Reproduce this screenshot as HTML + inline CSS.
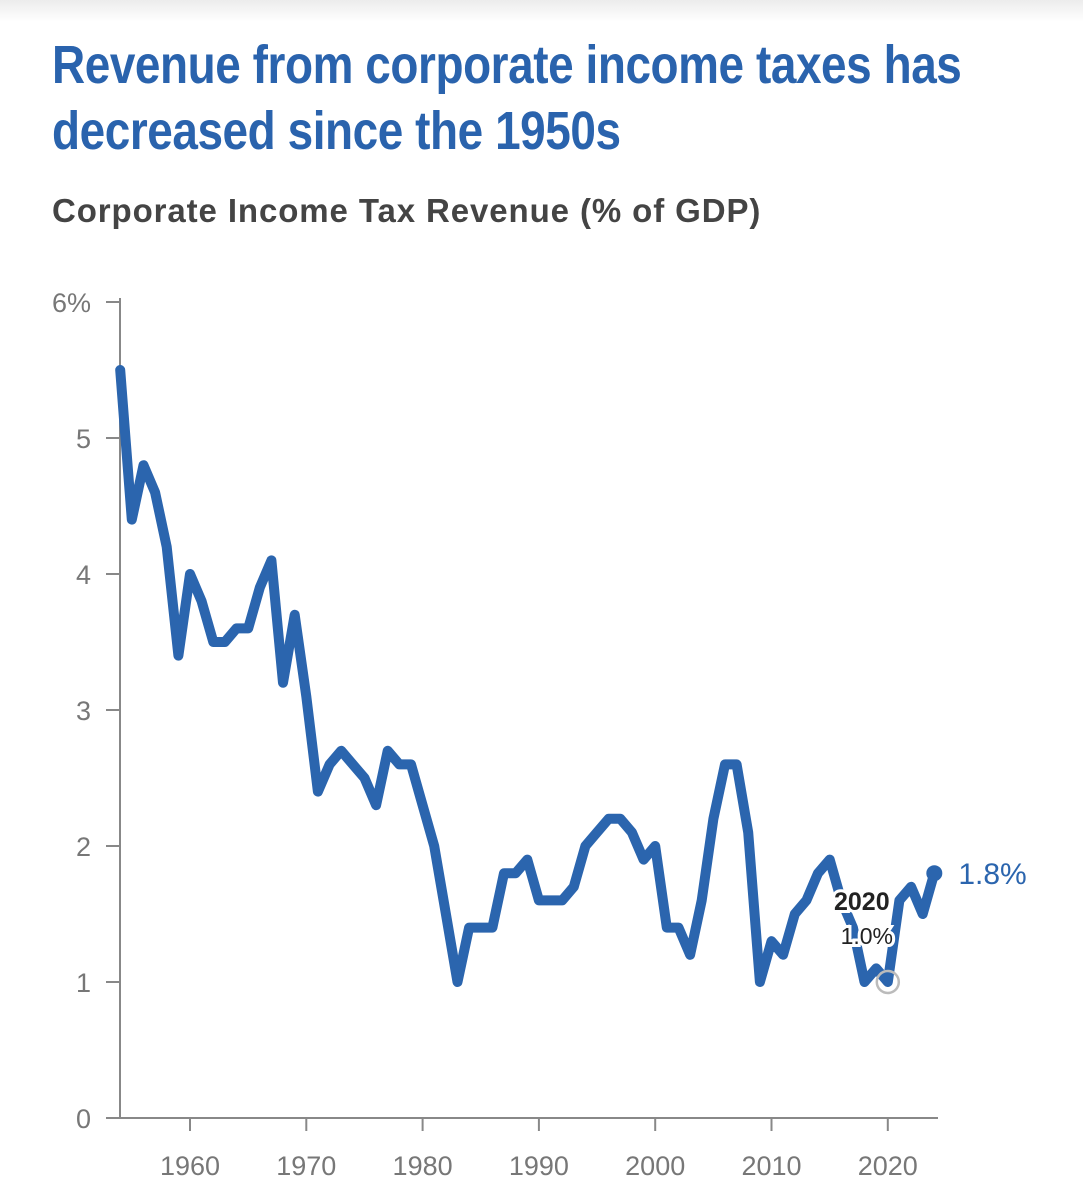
<!DOCTYPE html>
<html><head><meta charset="utf-8"><style>
body{margin:0;background:#fff;width:1083px;height:1200px;overflow:hidden;font-family:"Liberation Sans",sans-serif}
#top{position:absolute;left:0;top:0;width:1083px;height:22px;background:linear-gradient(#ececec,#fff)}
#title{position:absolute;left:52px;top:32px;font-family:"Liberation Sans Narrow","Liberation Sans",sans-serif;font-weight:bold;font-size:54px;line-height:66px;color:#2a63ad;transform-origin:0 0;transform:scaleX(0.85);white-space:nowrap;letter-spacing:-0.5px}
#sub{position:absolute;left:52px;top:192px;font-weight:bold;font-size:33px;letter-spacing:0.9px;color:#444;white-space:nowrap}
svg{position:absolute;left:0;top:0}
</style></head><body>
<div id="top"></div>
<div id="title">Revenue from corporate income taxes has<br>decreased since the 1950s</div>
<div id="sub">Corporate Income Tax Revenue (% of GDP)</div>
<svg id="chart" width="1083" height="1200"></svg>
<script>
const years=[];for(let y=1954;y<=2024;y++)years.push(y);
const values=[5.5,4.4,4.8,4.6,4.2,3.4,4.0,3.8,3.5,3.5,3.6,3.6,3.9,4.1,3.2,3.7,3.1,2.4,2.6,2.7,2.6,2.5,2.3,2.7,2.6,2.6,2.3,2.0,1.5,1.0,1.4,1.4,1.4,1.8,1.8,1.9,1.6,1.6,1.6,1.7,2.0,2.1,2.2,2.2,2.1,1.9,2.0,1.4,1.4,1.2,1.6,2.2,2.6,2.6,2.1,1.0,1.3,1.2,1.5,1.6,1.8,1.9,1.6,1.4,1.0,1.1,1.0,1.6,1.7,1.5,1.8];
const yTicks=[0,1,2,3,4,5,6];
const yTickLabels=["0","1","2","3","4","5","6%"];
const xTicks=[1960,1970,1980,1990,2000,2010,2020];
const NS="http://www.w3.org/2000/svg";
const svg=document.getElementById('chart');
function X(y){return 190+(y-1960)*11.63;}
function Y(v){return 1118-v*136;}
function mk(t,a){const e=document.createElementNS(NS,t);for(const k in a)e.setAttribute(k,a[k]);svg.appendChild(e);return e;}
let e=mk('line',{x1:120,y1:298,x2:120,y2:1118,stroke:'#888','stroke-width':2});


e=mk('line',{x1:120,y1:1118,x2:938,y2:1118,stroke:'#888','stroke-width':2});


yTicks.forEach((v,i)=>{
 let t=mk('line',{x1:106,x2:120,y1:Y(v),y2:Y(v),stroke:'#888','stroke-width':2});
 
 
 let l=mk('text',{x:91,y:Y(v)+10,'text-anchor':'end','font-size':27,fill:'#777'});l.textContent=yTickLabels[i];
 
 
});
xTicks.forEach(v=>{
 let t=mk('line',{x1:X(v),x2:X(v),y1:1118,y2:1131,stroke:'#888','stroke-width':2});
 
 
 let l=mk('text',{x:X(v),y:1175,'text-anchor':'middle','font-size':27,fill:'#777'});l.textContent=v;
 
 
});
const d=years.map((y,i)=>(i?'L':'M')+X(y).toFixed(1)+','+Y(values[i]).toFixed(1)).join('');
e=mk('path',{d:d,fill:'none',stroke:'#2b65ae','stroke-width':10,'stroke-linejoin':'round','stroke-linecap':'round'});


const li=years.length-1;
e=mk('circle',{cx:X(years[li]),cy:Y(values[li]),r:8,fill:'#2b65ae'});


e=mk('text',{x:X(years[li])+24,y:Y(values[li])+11,'font-size':30,fill:'#2b65ae'});e.textContent=values[li].toFixed(1)+'%';


const hi=years.indexOf(2020);
e=mk('circle',{cx:X(2020),cy:Y(values[hi]),r:11,fill:'none',stroke:'#bbb','stroke-width':2.5});


e=mk('text',{x:X(2020)-26,y:Y(values[hi])-72,'text-anchor':'middle','font-size':25,'font-weight':'bold',fill:'#222',stroke:'#fff','stroke-width':6,'paint-order':'stroke'});e.textContent='2020';


e=mk('text',{x:X(2020)-21,y:Y(values[hi])-38,'text-anchor':'middle','font-size':23,fill:'#222',stroke:'#fff','stroke-width':6,'paint-order':'stroke'});e.textContent=values[hi].toFixed(1)+'%';


</script>
</body></html>
